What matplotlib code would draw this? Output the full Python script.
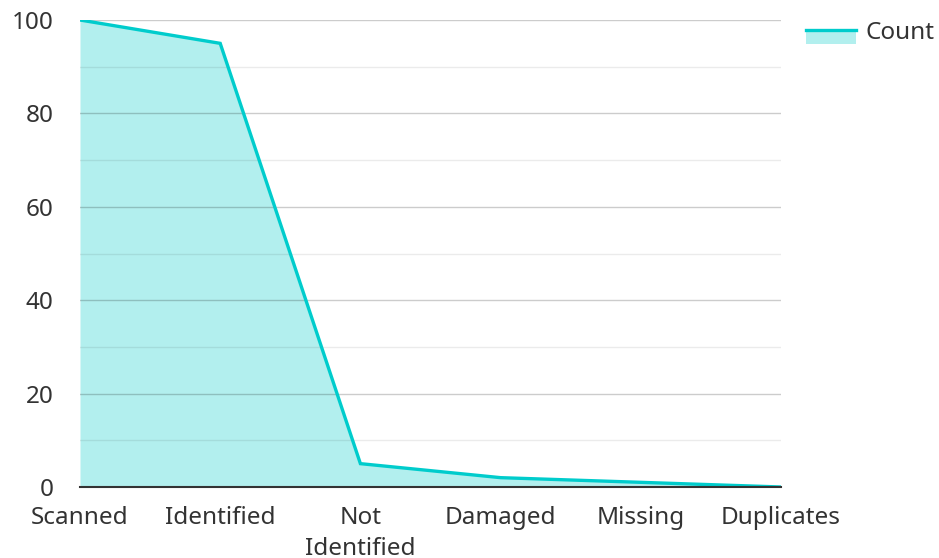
import matplotlib
matplotlib.use('Agg')
import matplotlib.pyplot as plt
from matplotlib.legend_handler import HandlerBase
from matplotlib.patches import Rectangle
from matplotlib.lines import Line2D

plt.rcParams['font.family'] = ['Noto Sans', 'DejaVu Sans']

# data
categories = ['Scanned', 'Identified', 'Not\nIdentified', 'Damaged', 'Missing', 'Duplicates']
counts = [100, 95, 5, 2, 1, 0]
y_ticks = [0, 20, 40, 60, 80, 100]

LINE_C = '#00cccc'
FILL_C = '#b2efee'
TEXT_C = '#333333'
FS = 17.5


class AreaHandler(HandlerBase):
    # line at text middle with the filled box hanging below it
    def create_artists(self, legend, orig_handle, xdescent, ydescent,
                       width, height, fontsize, trans):
        mid = -ydescent + height * 0.5
        rect = Rectangle((-xdescent, mid - 9.5), width, 9.5,
                         facecolor=FILL_C, edgecolor='none', transform=trans)
        line = Line2D([-xdescent, -xdescent + width], [mid, mid],
                      color=LINE_C, lw=2.4, transform=trans)
        return [rect, line]


fig = plt.figure(figsize=(9.39, 5.58), dpi=100)
ax = fig.add_axes([80 / 939, 1 - 487 / 558, (781 - 80) / 939, (487 - 20) / 558])

x = list(range(len(categories)))
ax.fill_between(x, counts, 0, color=FILL_C, lw=0, zorder=1)
ax.plot(x, counts, color=LINE_C, lw=2.4, solid_joinstyle='miter', zorder=3)

ax.set_xlim(0, len(categories) - 1)
ax.set_ylim(0, 100)
ax.set_xticks(x)
ax.set_xticklabels(categories, fontsize=FS, color=TEXT_C, linespacing=1.35)
ax.set_yticks(y_ticks)
ax.set_yticklabels([str(v) for v in y_ticks], fontsize=FS, color=TEXT_C)
ax.set_yticks(range(10, 100, 20), minor=True)
ax.tick_params(axis='x', length=0, pad=14)
ax.tick_params(axis='y', which='both', length=0, pad=19)

ax.grid(axis='y', which='major', color='black', alpha=0.2, lw=1)
ax.grid(axis='y', which='minor', color='black', alpha=0.08, lw=1)
ax.set_axisbelow(False)

for s in ['top', 'right', 'left']:
    ax.spines[s].set_visible(False)
ax.spines['bottom'].set_color('#333333')
ax.spines['bottom'].set_linewidth(1.5)
ax.spines['bottom'].set_zorder(4)

ax.legend([object()], ['Count'], handler_map={object: AreaHandler()},
          loc='upper left', bbox_to_anchor=(806 / 939, 1 - 21 / 558),
          bbox_transform=fig.transFigure, frameon=False, fontsize=FS,
          handlelength=2.05, handleheight=0.6, handletextpad=0.4,
          borderpad=0, borderaxespad=0, labelcolor=TEXT_C)

fig.savefig('out.png', dpi=100)
